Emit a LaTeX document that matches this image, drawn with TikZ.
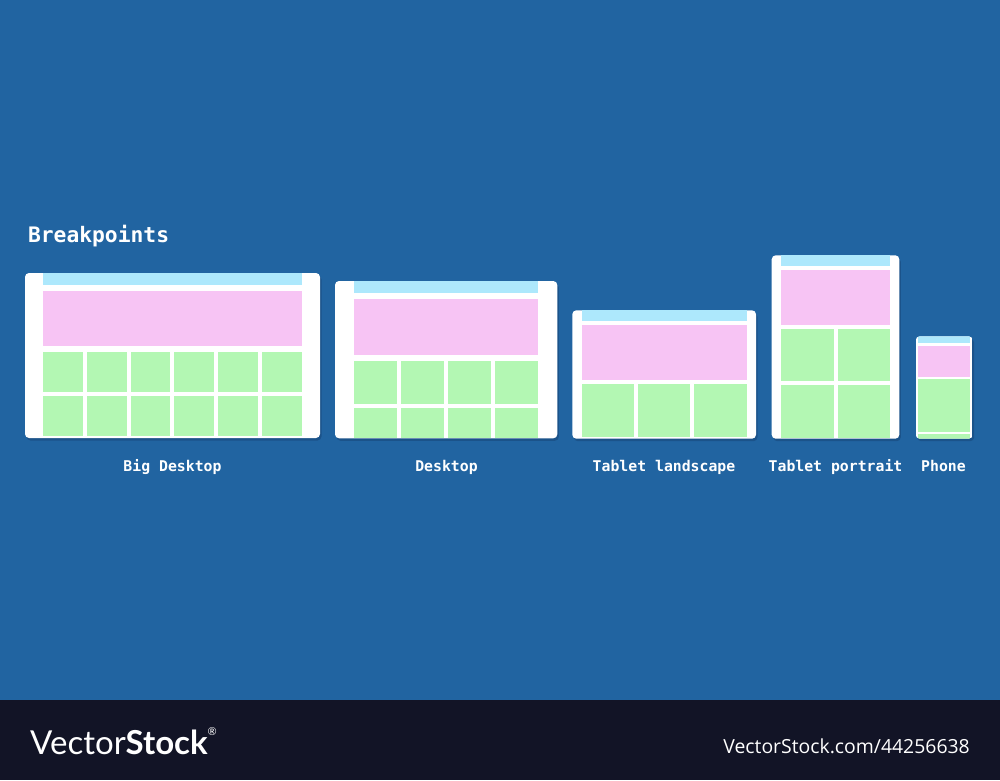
\documentclass[tikz,border=0pt]{standalone}
\usepackage{fontspec}
\usepackage{tikz}
\newfontfamily\mono{DejaVu Sans Mono}
\newfontfamily\logofont{Lato}
\newfontfamily\urlfont{Open Sans}

\definecolor{bgblue}{RGB}{33,100,161}
\definecolor{footer}{RGB}{18,20,38}
\definecolor{barblue}{RGB}{173,232,252}
\definecolor{heropink}{RGB}{247,196,244}
\definecolor{cellgreen}{RGB}{179,247,179}
\definecolor{shade}{RGB}{27,83,138}

\begin{document}
\begin{tikzpicture}[x=1pt,y=-1pt,
	frame/.style={fill=white,rounded corners=4pt},
	shadow/.style={fill=shade,rounded corners=4pt},
	bar/.style={fill=barblue},
	hero/.style={fill=heropink},
	cell/.style={fill=cellgreen},
	caption/.style={anchor=base,text=white,font=\mono\bfseries\fontsize{14.8}{18}\selectfont}]

	\fill[bgblue] (0,0) rectangle (1000,700);
	\fill[footer] (0,700) rectangle (1000,780);
	\useasboundingbox (0,0) rectangle (1000,780);

	\node[anchor=west,text=white,font=\mono\bfseries\fontsize{21.3}{24}\selectfont] (title) at (24.5,236.5) {Breakpoints};

	% big desktop
	\fill[shadow] (26.5,275.5) rectangle (321.5,440.5);
	\fill[frame] (25,273) rectangle (320,438);
	\fill[bar] (43.3,273) rectangle (301.7,285);
	\fill[hero] (43.3,291) rectangle (301.7,346);
	\fill[cell] (43.3,352.3) rectangle (83,392);
	\fill[cell] (87,352.3) rectangle (126.7,392);
	\fill[cell] (130.7,352.3) rectangle (170.4,392);
	\fill[cell] (174.4,352.3) rectangle (214.1,392);
	\fill[cell] (218.1,352.3) rectangle (257.8,392);
	\fill[cell] (261.8,352.3) rectangle (301.7,392);
	\fill[cell] (43.3,396) rectangle (83,435.7);
	\fill[cell] (87,396) rectangle (126.7,435.7);
	\fill[cell] (130.7,396) rectangle (170.4,435.7);
	\fill[cell] (174.4,396) rectangle (214.1,435.7);
	\fill[cell] (218.1,396) rectangle (257.8,435.7);
	\fill[cell] (261.8,396) rectangle (301.7,435.7);

	% desktop
	\fill[shadow] (336.5,283.5) rectangle (558.8,440.8);
	\fill[frame] (335,281) rectangle (557.3,438.3);
	\fill[bar] (354,281) rectangle (538.3,293.3);
	\fill[hero] (354,299.3) rectangle (538.3,355);
	\fill[cell] (354,360.7) rectangle (397.3,404);
	\fill[cell] (401,360.7) rectangle (444.3,404);
	\fill[cell] (448.3,360.7) rectangle (491.3,404);
	\fill[cell] (495.3,360.7) rectangle (538.3,404);
	\fill[cell] (354,407.7) rectangle (397.3,438.3);
	\fill[cell] (401,407.7) rectangle (444.3,438.3);
	\fill[cell] (448.3,407.7) rectangle (491.3,438.3);
	\fill[cell] (495.3,407.7) rectangle (538.3,438.3);

	% tablet landscape
	\fill[shadow] (573.8,312.8) rectangle (757.5,441.2);
	\fill[frame] (572.3,310.3) rectangle (756,438.7);
	\fill[bar] (581.7,310.3) rectangle (746.7,321);
	\fill[hero] (581.7,325.3) rectangle (746.7,380);
	\fill[cell] (581.7,384) rectangle (634,436.7);
	\fill[cell] (638,384) rectangle (690.3,436.7);
	\fill[cell] (694.3,384) rectangle (746.7,436.7);

	% tablet portrait
	\fill[shadow] (773.2,257.8) rectangle (900.8,441.2);
	\fill[frame] (771.7,255.3) rectangle (899.3,438.7);
	\fill[bar] (781,255.3) rectangle (890,266);
	\fill[hero] (781,270) rectangle (890,325);
	\fill[cell] (781,329) rectangle (833.7,381);
	\fill[cell] (837.7,329) rectangle (890,381);
	\fill[cell] (781,385) rectangle (833.7,437.7);
	\fill[cell] (837.7,385) rectangle (890,437.7);

	% phone
	\fill[shadow] (917.2,338.8) rectangle (974.2,441.2);
	\begin{scope}
	\clip[rounded corners=4pt] (915.7,336.3) rectangle (972.7,438.7);
	\fill[white] (915.7,336.3) rectangle (972.7,438.7);
	\fill[bar] (917.7,336.3) rectangle (970.3,343.3);
	\fill[hero] (917.7,345.7) rectangle (970.3,376.7);
	\fill[cell] (917.7,379) rectangle (970.3,431.7);
	\fill[cell] (917.7,434) rectangle (970.3,438.7);
	\end{scope}

	\node[caption] (bigdesk) at (172.5,471.5) {Big Desktop};
	\node[caption] (desk) at (446.5,471.5) {Desktop};
	\node[caption] (tabland) at (664,471.5) {Tablet landscape};
	\node[caption] (tabport) at (835.5,471.5) {Tablet portrait};
	\node[caption] (phone) at (943.5,471.5) {Phone};

	% footer
	\node[anchor=west,text=white,inner sep=0pt,font=\logofont\fontsize{33}{34}\selectfont] (logo) at (30,741)
		{Vector\textbf{Stock}\raisebox{1.1ex}{\fontsize{11}{11}\selectfont ®}};
	\node[anchor=east,text=white,inner sep=0pt,font=\urlfont\fontsize{19.4}{21}\selectfont] (url) at (970,746)
		{VectorStock.com/44256638};
\end{tikzpicture}
\end{document}
